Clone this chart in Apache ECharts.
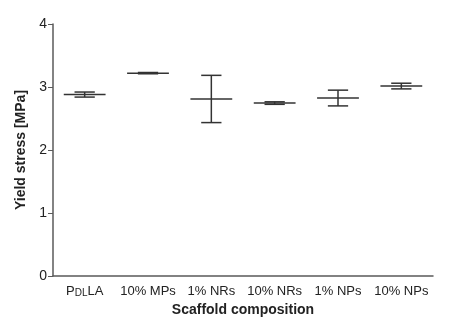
<!DOCTYPE html>
<html>
<head>
<meta charset="utf-8">
<script src="https://cdn.jsdelivr.net/npm/echarts@6/dist/echarts.min.js"></script>
<style>html,body{margin:0;padding:0;background:#fff}#c{width:474px;height:330px}</style>
</head>
<body>
<div id="c"></div>
<script>
// Yield stress per scaffold composition: mean with error range
const categories = ['PDLLA', '10% MPs', '1% NRs', '10% NRs', '1% NPs', '10% NPs'];
const means = [2.88, 3.22, 2.81, 2.745, 2.825, 3.015];
const lowers = [2.84, 3.21, 2.435, 2.725, 2.70, 2.97];
const uppers = [2.92, 3.23, 3.185, 2.765, 2.95, 3.06];
const yTicks = [0, 1, 2, 3, 4];

const font = 'Liberation Sans, Arial, sans-serif';
const ink = '#222';
const axisGrey = '#5a5a5a';

const chart = echarts.init(document.getElementById('c'));
chart.setOption({
  animation: false,
  backgroundColor: '#fff',
  grid: { left: 53, right: 41, top: 24, bottom: 54 },
  xAxis: {
    type: 'category',
    data: categories,
    boundaryGap: true,
    name: 'Scaffold composition',
    nameLocation: 'middle',
    nameGap: 26,
    nameTextStyle: { fontFamily: font, fontSize: 14, fontWeight: 'bold', color: ink },
    axisLine: { lineStyle: { color: axisGrey, width: 1.5 } },
    axisTick: { alignWithLabel: true, length: 4, lineStyle: { color: axisGrey, width: 1 } },
    axisLabel: {
      interval: 0,
      fontFamily: font, fontSize: 13, color: ink, margin: 9,
      formatter: v => v === 'PDLLA' ? '{n|P}{s|DL}{n|LA}' : v,
      rich: {
        n: { fontFamily: font, fontSize: 13, color: ink },
        s: { fontFamily: font, fontSize: 10, color: ink, verticalAlign: 'bottom' }
      }
    },
    splitLine: { show: false }
  },
  yAxis: {
    type: 'value',
    min: yTicks[0],
    max: yTicks[yTicks.length - 1],
    interval: 1,
    name: 'Yield stress [MPa]',
    nameLocation: 'middle',
    nameGap: 22,
    nameTextStyle: { fontFamily: font, fontSize: 14, fontWeight: 'bold', color: ink },
    axisLine: { show: true, lineStyle: { color: axisGrey, width: 1.5 } },
    axisTick: { show: true, length: 5, lineStyle: { color: axisGrey, width: 1 } },
    axisLabel: { fontFamily: font, fontSize: 14, color: ink, margin: 6 },
    splitLine: { show: false }
  },
  series: [{
    type: 'custom',
    data: categories.map((c, i) => [i, means[i], lowers[i], uppers[i]]),
    encode: { x: 0, y: [1, 2, 3] },
    renderItem: function (params, api) {
      const i = api.value(0);
      const pm = api.coord([i, api.value(1)]);
      const pl = api.coord([i, api.value(2)]);
      const pu = api.coord([i, api.value(3)]);
      const band = api.size([1, 0])[0];
      const halfMean = band * 0.33;
      const halfCap = band * 0.16;
      const style = { stroke: '#333', lineWidth: 1.5, fill: null };
      return {
        type: 'group',
        children: [
          { type: 'line', shape: { x1: pl[0], y1: pl[1], x2: pu[0], y2: pu[1] }, style },
          { type: 'line', shape: { x1: pu[0] - halfCap, y1: pu[1], x2: pu[0] + halfCap, y2: pu[1] }, style },
          { type: 'line', shape: { x1: pl[0] - halfCap, y1: pl[1], x2: pl[0] + halfCap, y2: pl[1] }, style },
          { type: 'line', shape: { x1: pm[0] - halfMean, y1: pm[1], x2: pm[0] + halfMean, y2: pm[1] }, style }
        ]
      };
    }
  }]
});
</script>
</body>
</html>
